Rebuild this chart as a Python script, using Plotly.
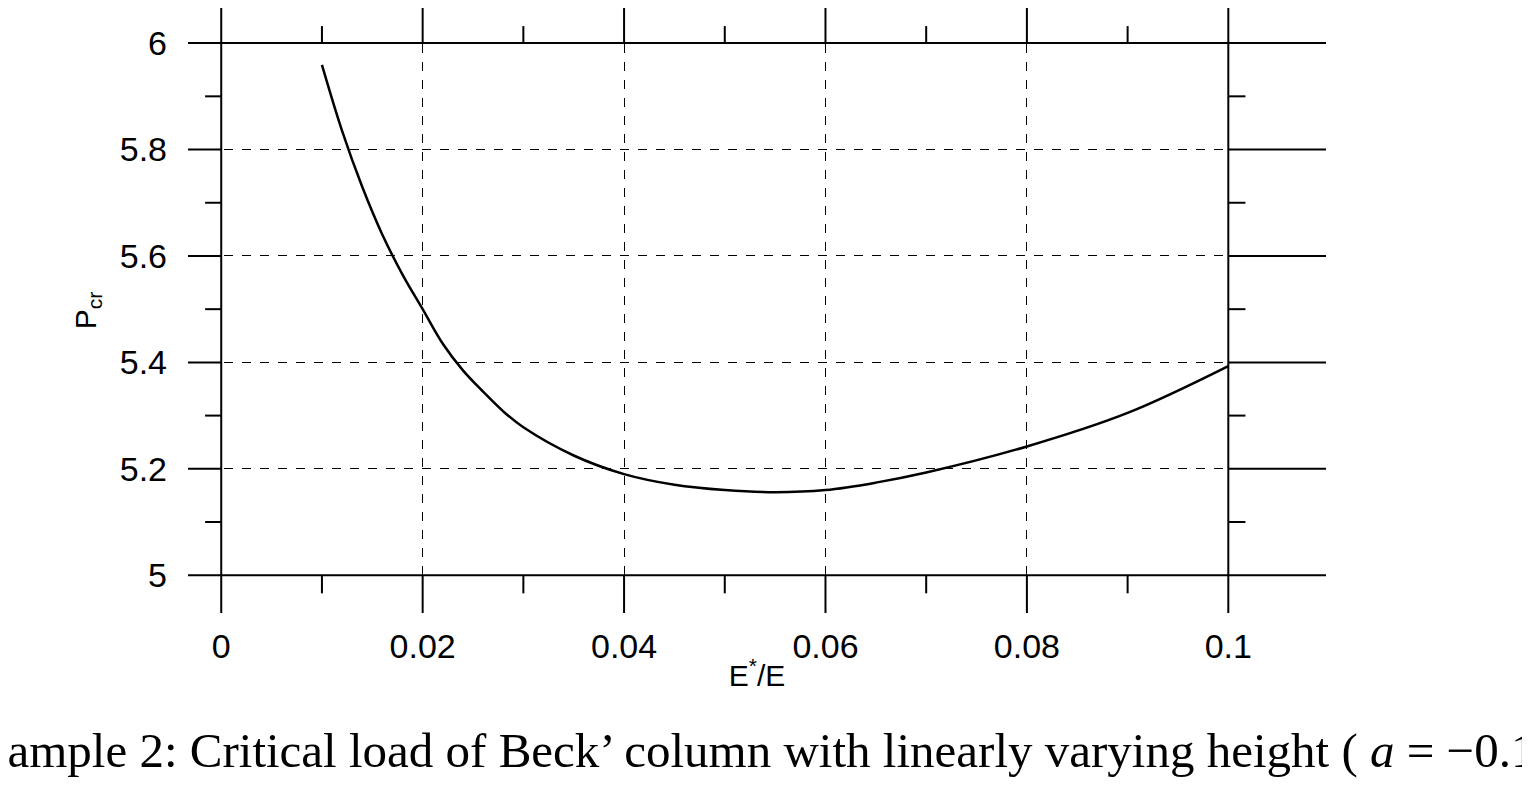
import plotly.graph_objects as go

# curve
ratio = [0.010, 0.012, 0.014, 0.016, 0.018, 0.020, 0.022, 0.024, 0.026, 0.028, 0.030,
         0.035, 0.040, 0.045, 0.050, 0.055, 0.060, 0.065, 0.070, 0.080, 0.090, 0.100]
p_cr = [5.959, 5.835, 5.73, 5.64, 5.565, 5.50, 5.435, 5.385, 5.345, 5.308, 5.278,
        5.225, 5.19, 5.17, 5.16, 5.156, 5.16, 5.174, 5.193, 5.242, 5.305, 5.393]

x_ticks = [0, 0.02, 0.04, 0.06, 0.08, 0.1]
x_tick_text = ["0", "0.02", "0.04", "0.06", "0.08", "0.1"]
x_minor = [0.01, 0.03, 0.05, 0.07, 0.09]
y_ticks = [5, 5.2, 5.4, 5.6, 5.8, 6]
y_tick_text = ["5", "5.2", "5.4", "5.6", "5.8", "6"]
y_minor = [5.1, 5.3, 5.5, 5.7, 5.9]

xr = [-0.0033, 0.1097]
yr = [4.929, 6.066]

fig = go.Figure()
fig.add_trace(go.Scatter(x=ratio, y=p_cr, mode="lines",
                         line=dict(color="black", width=2.5, shape="spline", smoothing=1.0),
                         showlegend=False))

blk = dict(color="black", width=2)
shapes = []
# solid frame lines
for yv in [5, 6]:
    shapes.append(dict(type="line", xref="x", yref="y", x0=xr[0], x1=xr[1], y0=yv, y1=yv, line=blk))
for xv in [0, 0.1]:
    shapes.append(dict(type="line", xref="x", yref="y", x0=xv, x1=xv, y0=yr[0], y1=yr[1], line=blk))
# major ticks outside
for xv in x_ticks[1:-1]:
    shapes.append(dict(type="line", x0=xv, x1=xv, y0=yr[0], y1=5, line=blk))
    shapes.append(dict(type="line", x0=xv, x1=xv, y0=6, y1=yr[1], line=blk))
for yv in y_ticks[1:-1]:
    shapes.append(dict(type="line", x0=xr[0], x1=0, y0=yv, y1=yv, line=blk))
    shapes.append(dict(type="line", x0=0.1, x1=xr[1], y0=yv, y1=yv, line=blk))
# minor ticks
for xv in x_minor:
    shapes.append(dict(type="line", x0=xv, x1=xv, y0=4.966, y1=5, line=blk))
    shapes.append(dict(type="line", x0=xv, x1=xv, y0=6, y1=6.032, line=blk))
for yv in y_minor:
    shapes.append(dict(type="line", x0=-0.0016, x1=0, y0=yv, y1=yv, line=blk))
    shapes.append(dict(type="line", x0=0.1, x1=0.1017, y0=yv, y1=yv, line=blk))

fig.update_layout(
    width=1530, height=799,
    margin=dict(l=180, r=212, t=0, b=194, autoexpand=False),
    plot_bgcolor="white", paper_bgcolor="white",
    font=dict(family="Liberation Sans", size=34, color="black"),
    shapes=shapes,
    xaxis=dict(range=xr, tickvals=x_ticks, ticktext=x_tick_text, showline=False, zeroline=False,
               showgrid=True, gridcolor="black", gridwidth=1, griddash="dash", ticks="",
               ticklabelstandoff=10, automargin=False,
               title=dict(text="E<sup>*</sup>/E", font=dict(size=30), standoff=0)),
    yaxis=dict(range=yr, tickvals=y_ticks, ticktext=y_tick_text, showline=False, zeroline=False,
               showgrid=True, gridcolor="black", gridwidth=1, griddash="dash", ticks="",
               ticklabelstandoff=20, automargin=False,
               title=dict(text="P<sub>cr</sub>", font=dict(size=30), standoff=14)),
    annotations=[dict(
        xref="paper", yref="paper", x=-(180 + 57) / 1138, y=-(742 - 605) / 605,
        xanchor="left", yanchor="middle", showarrow=False,
        text="Example 2: Critical load of Beck’ column with linearly varying height ( <i>a</i> = −0.1)",
        font=dict(family="Liberation Serif", size=49, color="black"))],
)

fig.write_html("out.html")
